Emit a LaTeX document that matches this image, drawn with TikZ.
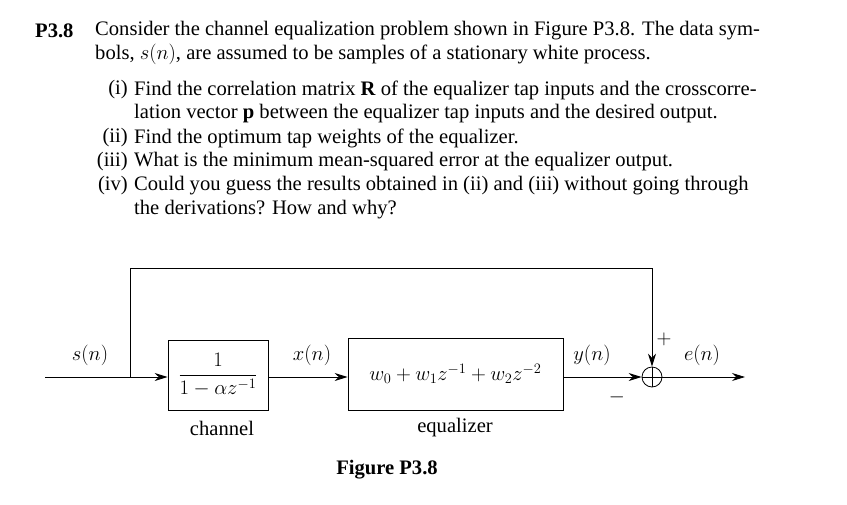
\RequirePackage{fix-cm}
\documentclass[tikz,border=0pt]{standalone}
\usepackage{amsmath}
\usepackage{fontspec}
\setmainfont{Liberation Serif}
\usetikzlibrary{arrows.meta}
\begin{document}
\begin{tikzpicture}[x=1pt,y=-1pt,
  txt/.style={anchor=west,inner sep=0pt,font=\fontsize{20.6}{24}\selectfont},
  lbl/.style={inner sep=0pt,font=\fontsize{20.6}{24}\selectfont},
  blk/.style={draw,line width=0.8pt,minimum width=100pt,minimum height=70pt,inner sep=0pt,font=\fontsize{20.6}{24}\selectfont},
  sig/.style={line width=0.8pt,-{Stealth[length=13pt,width=8pt]}},
  wire/.style={line width=0.8pt}]
\useasboundingbox (0,0) rectangle (847,504);
\node[txt,font=\fontsize{20.6}{24}\selectfont\bfseries] (num) at (35,31) {P3.8};
\node[txt] (l1) at (95,31) {Consider the channel equalization problem shown in Figure P3.8. The data sym-};
\node[txt] (l2) at (95,54) {bols, $s(n)$, are assumed to be samples of a stationary white process.};
\node[txt,anchor=east] (i1) at (128,90) {(i)};
\node[txt] (i1t) at (134,90) {Find the correlation matrix $\mathbf{R}$ of the equalizer tap inputs and the crosscorre-};
\node[txt] (i1u) at (134,114) {lation vector $\mathbf{p}$ between the equalizer tap inputs and the desired output.};
\node[txt,anchor=east] (i2) at (128,138) {(ii)};
\node[txt] (i2t) at (134,138) {Find the optimum tap weights of the equalizer.};
\node[txt,anchor=east] (i3) at (128,162) {(iii)};
\node[txt] (i3t) at (134,162) {What is the minimum mean-squared error at the equalizer output.};
\node[txt,anchor=east] (i4) at (128,186) {(iv)};
\node[txt] (i4t) at (134,186) {Could you guess the results obtained in (ii) and (iii) without going through};
\node[txt] (i4u) at (134,210) {the derivations? How and why?};

\coordinate (start) at (45,377);
\coordinate (split) at (130,377);
\node[blk] (ch) at (218,375) {$\dfrac{1}{1-\alpha z^{-1}}$};
\node[blk,minimum width=215pt,minimum height=72pt] (eq) at (455.5,374) {$w_0+w_1z^{-1}+w_2z^{-2}$};
\node[draw,circle,line width=0.8pt,minimum size=20pt,inner sep=0pt] (sum) at (652,377) {};
\draw[line width=0.8pt] (sum.north)--(sum.south) (sum.west)--(sum.east);
\coordinate (endp) at (745,377);
\coordinate (tl) at (130,268);
\coordinate (tr) at (652,268);

\draw[wire] (start)--(split);
\draw[sig] (split)--(ch.west |- split);
\draw[sig] (ch.east |- split)--(eq.west |- split);
\draw[sig] (eq.east |- split)--(sum.west);
\draw[sig] (sum.east)--(endp);
\draw[sig] (split)--(tl)--(tr)--(sum.north);

\node[lbl] (sn) at (90,355) {$s(n)$};
\node[lbl] (xn) at (312,355) {$x(n)$};
\node[lbl] (yn) at (592,355) {$y(n)$};
\node[lbl] (en) at (702,355) {$e(n)$};
\node[lbl] (plus) at (664,339) {$+$};
\node[lbl] (minus) at (617,397) {$-$};
\node[lbl] (chl) at (222,428) {channel};
\node[lbl] (eql) at (455,428) {equalizer};
\node[lbl,font=\fontsize{20.6}{24}\selectfont\bfseries] (fig) at (387,470) {Figure P3.8};
\end{tikzpicture}
\end{document}
